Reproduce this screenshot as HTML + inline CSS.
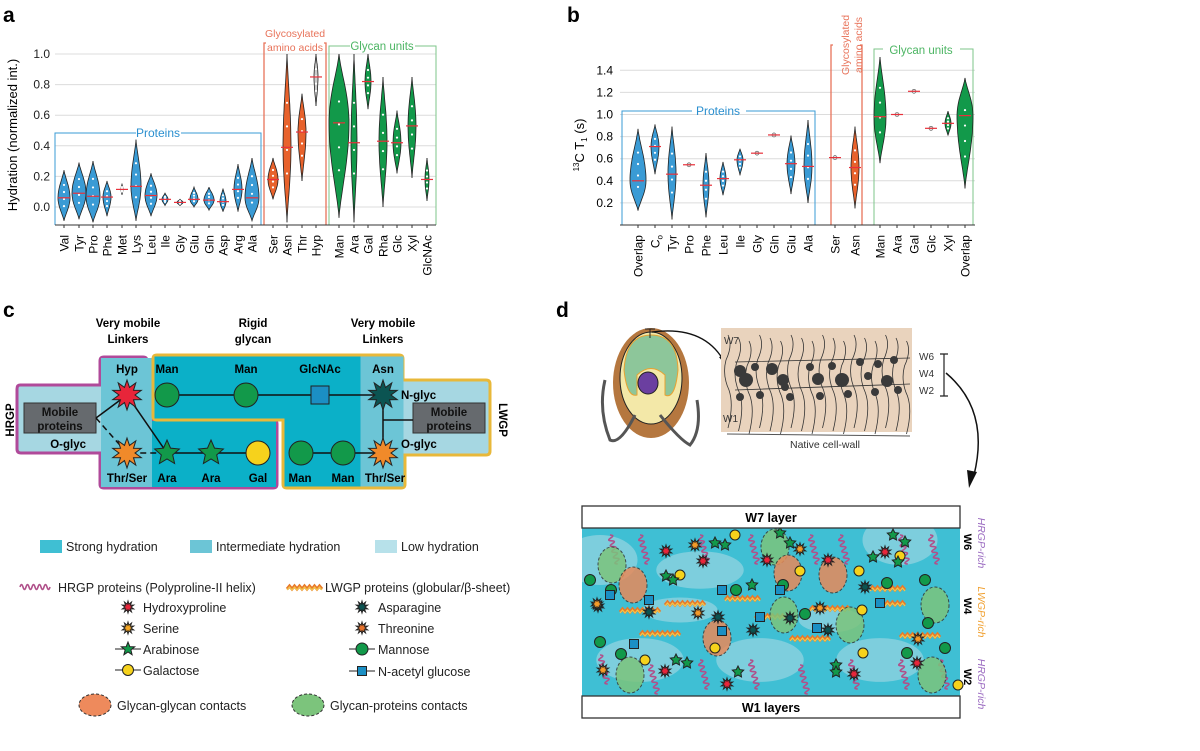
<!DOCTYPE html>
<html><head><meta charset="utf-8"><style>
body{margin:0;background:#fff}
svg{display:block;font-family:"Liberation Sans",sans-serif}
</style></head><body>
<svg id="s" width="1200" height="751" viewBox="0 0 1200 751">
<defs><clipPath id="dclip"><rect x="582" y="528" width="378" height="168"/></clipPath></defs>
<g id="pa"></g>
<g id="pb"></g>
<g id="pc"></g>
<g id="pd"></g>
</svg>
<script>
// ---- Panel a data ----
const aCats=["Val","Tyr","Pro","Phe","Met","Lys","Leu","Ile","Gly","Glu","Gln","Asp","Arg","Ala","Ser","Asn","Thr","Hyp","Man","Ara","Gal","Rha","Glc","Xyl","GlcNAc"];
const aMed=[0.06,0.09,0.07,0.065,0.115,0.135,0.075,0.05,0.03,0.05,0.045,0.035,0.115,0.06,0.18,0.39,0.49,0.85,0.55,0.42,0.82,0.43,0.42,0.53,0.18];
const aLo=[-0.09,-0.08,-0.1,-0.06,0.08,-0.09,-0.06,0.01,0.01,0,-0.02,-0.03,-0.03,-0.09,0.05,-0.1,0.17,0.66,-0.07,-0.1,0.64,0,0.22,0.19,0.04];
const aHi=[0.24,0.29,0.3,0.17,0.15,0.44,0.22,0.09,0.05,0.13,0.13,0.12,0.28,0.32,0.32,1.0,0.74,1.0,1.0,1.0,1.0,0.85,0.63,0.85,0.32];
const aWid=[6,7,7,4,1,5,6,3,3,4,5,3,4,7,5,4,4,2,10,3,3,4,4,4,2];
const aGrp=[0,0,0,0,0,0,0,0,0,0,0,0,0,0,1,1,1,3,2,2,2,2,2,2,2];
const aTicks=[0,0.2,0.4,0.6,0.8,1.0];
// ---- Panel b data ----
const bCats=["Overlap","C","Tyr","Pro","Phe","Leu","Ile","Gly","Gln","Glu","Ala","Ser","Asn","Man","Ara","Gal","Glc","Xyl","Overlap"];
const bMed=[0.40,0.71,0.46,0.545,0.36,0.42,0.59,0.65,0.815,0.555,0.53,0.61,0.52,0.98,1.0,1.21,0.875,0.92,0.99];
const bLo=[0.13,0.46,0.05,0.545,0.07,0.27,0.45,0.65,0.815,0.28,0.2,0.61,0.15,0.56,1.0,1.21,0.875,0.81,0.33];
const bHi=[0.87,0.91,0.89,0.545,0.65,0.57,0.69,0.65,0.815,0.81,0.95,0.61,0.89,1.52,1.0,1.21,0.875,1.03,1.33];
const bWid=[8,4,4,0,3,3,3,0,0,4,4,0,4,6,0,0,0,3,8];
const bGrp=[0,0,0,0,0,0,0,0,0,0,0,1,1,2,2,2,2,2,2];
const bTicks=[0.2,0.4,0.6,0.8,1.0,1.2,1.4];

const NS="http://www.w3.org/2000/svg";
function el(p,tag,at,txt){const e=document.createElementNS(NS,tag);for(const k in at)e.setAttribute(k,at[k]);if(txt!==undefined)e.textContent=txt;p.appendChild(e);return e;}
const COL=["#3a9bd5","#e8622c","#12994a","#cccccc"];

function violin(g,cx,y,lo,med,hi,w,col,name){
  const vg=el(g,"g",{});
  
  
  if(w>0&&hi>lo){
    el(vg,"line",{x1:cx,x2:cx,y1:y(lo),y2:y(hi),stroke:"#333","stroke-width":0.8});
    const N=30,L=[],R=[];
    for(let i=0;i<=N;i++){const v=lo+(hi-lo)*i/N;let f=v<med?(v-lo)/(med-lo||1):(hi-v)/(hi-med||1);f=Math.max(0,Math.min(1,f));const hw=w*Math.pow(Math.sin(f*Math.PI/2),1.3);L.push((cx-hw).toFixed(1)+","+y(v).toFixed(1));R.unshift((cx+hw).toFixed(1)+","+y(v).toFixed(1));}
    el(vg,"path",{d:"M"+L.join("L")+"L"+R.join("L")+"Z",fill:col,stroke:"#222","stroke-width":0.8});
    for(let k=1;k<=4;k++){const v=lo+(hi-lo)*(0.15+0.7*k/5);el(vg,"circle",{cx:cx,cy:y(v),r:1.1,fill:"#fff"});}
  } else {
    if(hi>lo) el(vg,"line",{x1:cx,x2:cx,y1:y(lo),y2:y(hi),stroke:"#999","stroke-width":0.8});
    el(vg,"circle",{cx:cx,cy:y(med),r:2,fill:"#ddd",stroke:"#555","stroke-width":0.6});
  }
  el(vg,"line",{x1:cx-6,x2:cx+6,y1:y(med),y2:y(med),stroke:"#e8303a","stroke-width":1.2});
}

// ===== Panel a =====
(function(){
 const g=document.getElementById("pa");
 const y=v=>207-v*153;
 const xs=[64,79,93,107,122,136,151,165,180,194,209,223,238,252,273,287,302,316,339,354,368,383,397,412,427];
 el(g,"text",{x:3,y:22,"font-size":21,"font-weight":"bold"},"a");
 aTicks.forEach(t=>{el(g,"line",{x1:55,x2:436,y1:y(t),y2:y(t),stroke:"#dcdcdc"});
  const tl=el(g,"text",{x:50,y:y(t)+4,"font-size":12,"text-anchor":"end",fill:"#222"},t.toFixed(1));
  });
 const yt=el(g,"text",{x:0,y:0,"font-size":13,"text-anchor":"middle",transform:"translate(17,135) rotate(-90)"},"Hydration (normalized int.)");
 
 el(g,"path",{d:"M55,225V133H136M181,133H261V225",fill:"none",stroke:"#3a9bd5","stroke-width":1});
 el(g,"text",{x:158,y:137,"font-size":12,fill:"#2a8fcf","text-anchor":"middle"},"Proteins");
 el(g,"path",{d:"M264,225V43H266M324,43H326V225",fill:"none",stroke:"#e8735a","stroke-width":1.3});
 el(g,"text",{x:295,y:37,"font-size":10.5,fill:"#e8735a","text-anchor":"middle"},"Glycosylated");
 el(g,"text",{x:295,y:51,"font-size":10.5,fill:"#e8735a","text-anchor":"middle"},"amino acids");
 el(g,"path",{d:"M329,225V46H350M415,46H436V225",fill:"none",stroke:"#7cc68a","stroke-width":1});
 el(g,"text",{x:382,y:50,"font-size":11.5,fill:"#4cb563","text-anchor":"middle"},"Glycan units");
 el(g,"line",{x1:55,x2:436,y1:225,y2:225,stroke:"#333","stroke-width":1});
 aCats.forEach((c,i)=>{
  el(g,"line",{x1:xs[i],x2:xs[i],y1:225,y2:228,stroke:"#333"});
  violin(g,xs[i],y,aLo[i],aMed[i],aHi[i],aWid[i],COL[aGrp[i]],"violin-"+c.toLowerCase());
  const t=el(g,"text",{x:xs[i]+4.5,y:235,"font-size":12,"text-anchor":"end",transform:`rotate(-90 ${xs[i]+4.5} 235)`},c);
  
 });
})();

// ===== Panel b =====
(function(){
 const g=document.getElementById("pb");
 const y=v=>225-v*110.5;
 const xs=[638,655,672,689,706,723,740,757,774,791,808,835,855,880,897,914,931,948,965];
 el(g,"text",{x:567,y:22,"font-size":21,"font-weight":"bold"},"b");
 bTicks.forEach(t=>{el(g,"line",{x1:620,x2:975,y1:y(t),y2:y(t),stroke:"#dcdcdc"});
  const tl=el(g,"text",{x:613,y:y(t)+4,"font-size":12,"text-anchor":"end"},t.toFixed(1));
  });
 const yt=el(g,"text",{x:0,y:0,"font-size":13,"text-anchor":"middle",transform:"translate(584,145) rotate(-90)"});
 
 el(yt,"tspan",{"font-size":8,dy:-5},"13");el(yt,"tspan",{dy:5},"C T");el(yt,"tspan",{"font-size":8,dy:3},"1");el(yt,"tspan",{dy:-3}," (s)");
 el(g,"path",{d:"M622,225V111H692M746,111H815V225",fill:"none",stroke:"#3a9bd5"});
 el(g,"text",{x:718,y:115,"font-size":12,fill:"#2a8fcf","text-anchor":"middle"},"Proteins");
 el(g,"path",{d:"M831,225V45H833M860,45H862V225",fill:"none",stroke:"#e8735a","stroke-width":1.3});
 el(g,"text",{x:0,y:0,"font-size":10.5,fill:"#e8735a",transform:"translate(849,75) rotate(-90)"},"Glycosylated");
 el(g,"text",{x:0,y:0,"font-size":10.5,fill:"#e8735a",transform:"translate(862,73) rotate(-90)"},"amino acids");
 el(g,"path",{d:"M874,225V49H883M960,49H973V225",fill:"none",stroke:"#7cc68a"});
 el(g,"text",{x:921,y:54,"font-size":11.5,fill:"#4cb563","text-anchor":"middle"},"Glycan units");
 el(g,"line",{x1:620,x2:975,y1:225,y2:225,stroke:"#333"});
 bCats.forEach((c,i)=>{
  el(g,"line",{x1:xs[i],x2:xs[i],y1:225,y2:228,stroke:"#333"});
  violin(g,xs[i],y,bLo[i],bMed[i],bHi[i],bWid[i],COL[bGrp[i]],"violin-"+c.toLowerCase()+"-"+i);
  const t=el(g,"text",{x:xs[i]+4.5,y:235,"font-size":12,"text-anchor":"end",transform:`rotate(-90 ${xs[i]+4.5} 235)`},c);
  if(i===1){el(t,"tspan",{"font-size":8,dy:3},"o");}
  
 });
})();

function starPts(cx,cy,ro,ri,n){let p=[];for(let i=0;i<2*n;i++){const a=-Math.PI/2+i*Math.PI/n;const r=i%2?ri:ro;p.push((cx+r*Math.cos(a)).toFixed(1)+","+(cy+r*Math.sin(a)).toFixed(1));}return p.join(" ");}
function star(g,cx,cy,ro,ri,n,fill,name){const s=el(g,"polygon",{points:starPts(cx,cy,ro,ri,n),fill:fill,stroke:"#222","stroke-width":1});return s;}
function circ(g,cx,cy,r,fill,name){const s=el(g,"circle",{cx:cx,cy:cy,r:r,fill:fill,stroke:"#222","stroke-width":1});return s;}
function sq(g,cx,cy,h,name){const s=el(g,"rect",{x:cx-h,y:cy-h,width:2*h,height:2*h,fill:"#1b8fc4",stroke:"#222","stroke-width":1});return s;}
function wave(g,x,y,len,col){let d="M"+x+","+y;for(let i=0;i<len;i+=6){d+=` q1.5,-5 3,0 q1.5,5 3,0`;}el(g,"path",{d:d,fill:"none",stroke:col,"stroke-width":1.6});}
function beta(g,x,y,len){let d="M"+x+","+y;for(let i=0;i<len;i+=5){d+=" l2.5,-3 l2.5,3";}el(g,"path",{d:d,fill:"none",stroke:"#e87a2a","stroke-width":3});el(g,"path",{d:d,fill:"none",stroke:"#f2c84b","stroke-width":1.2,transform:"translate(0,1)"});}

// ===== Panel c =====
(function(){
 const g=document.getElementById("pc");
 el(g,"text",{x:3,y:317,"font-size":21,"font-weight":"bold"},"c");
 const B={"font-size":11.5,"font-weight":"bold","text-anchor":"middle"};
 [["Very mobile",128,327],["Linkers",128,343],["Rigid",253,327],["glycan",253,343],["Very mobile",383,327],["Linkers",383,343]].forEach(a=>el(g,"text",Object.assign({x:a[1],y:a[2]},B),a[0]));
 const hr=el(g,"path",{d:"M20,385H100V361Q100,357 104,357H143Q147,357 147,361V420H273Q277,420 277,424V484Q277,488 273,488H104Q100,488 100,484V453H21Q17,453 17,449V389Q17,385 20,385Z",fill:"#a6d7e2",stroke:"#b04a9a","stroke-width":3});
 
 el(g,"rect",{x:101,y:358,width:51,height:129,fill:"#6cc5d6"});
 el(g,"rect",{x:152,y:421,width:124,height:66,fill:"#0bb0c8"});
 const lw=el(g,"path",{d:"M157,355H399Q403,355 403,359V380H486Q490,380 490,384V451Q490,455 486,455H405V484Q405,488 401,488H287Q283,488 283,484V420H157Q153,420 153,416V359Q153,355 157,355Z",fill:"#a6d7e2",stroke:"#e8b83a","stroke-width":3});
 
 el(g,"rect",{x:154.5,y:356.5,width:206,height:62,fill:"#0bb0c8"});
 el(g,"rect",{x:284.5,y:418,width:76,height:68.5,fill:"#0bb0c8"});
 el(g,"rect",{x:360.5,y:356.5,width:43,height:130,fill:"#6cc5d6"});
 [[24,"mobile-proteins-left"],[413,"mobile-proteins-right"]].forEach(b=>{const r=el(g,"rect",{x:b[0],y:403,width:72,height:30,fill:"#666a6e",stroke:"#333"});
  el(g,"text",Object.assign({},B,{x:b[0]+36,y:416,fill:"#111"}),"Mobile");el(g,"text",Object.assign({},B,{x:b[0]+36,y:430,fill:"#111"}),"proteins");});
 const L={stroke:"#111","stroke-width":1.5,fill:"none"};
 el(g,"path",Object.assign({d:"M96,418L127,395L167,453H258"},L));
 el(g,"path",Object.assign({d:"M96,418L127,453H167","stroke-dasharray":"6,4"},L));
 el(g,"path",Object.assign({d:"M167,395H383V453M383,420H413M301,453H383"},L));
 circ(g,167,395,12,"#12994a","man-1");circ(g,246,395,12,"#12994a","man-2");sq(g,320,395,9,"glcnac");
 star(g,383,395,15,8,10,"#0b5452","asn-star");star(g,127,395,15,8,10,"#e8253a","hyp-star");
 star(g,127,453,15,8,10,"#f08a2a","thr-ser-left");star(g,383,453,15,8,10,"#f08a2a","thr-ser-right");
 star(g,167,453,13,6,5,"#12994a","ara-1");star(g,211,453,13,6,5,"#12994a","ara-2");
 circ(g,258,453,12,"#f6d21c","gal");circ(g,301,453,12,"#12994a","man-3");circ(g,343,453,12,"#12994a","man-4");
 [["Hyp",127,373],["Man",167,373],["Man",246,373],["GlcNAc",320,373],["Asn",383,373],["Thr/Ser",127,482],["Ara",167,482],["Ara",211,482],["Gal",258,482],["Man",300,482],["Man",343,482],["Thr/Ser",385,482]].forEach(a=>el(g,"text",Object.assign({},B,{x:a[1],y:a[2]}),a[0]));
 el(g,"text",Object.assign({},B,{x:86,y:448,"text-anchor":"end"}),"O-glyc");
 el(g,"text",Object.assign({},B,{x:401,y:399,"text-anchor":"start"}),"N-glyc");
 el(g,"text",Object.assign({},B,{x:401,y:448,"text-anchor":"start"}),"O-glyc");
 el(g,"text",Object.assign({},B,{transform:"translate(14,420) rotate(-90)"}),"HRGP");
 el(g,"text",Object.assign({},B,{transform:"translate(499,420) rotate(90)"}),"LWGP");
 const T={"font-size":12.5,fill:"#222"};
 [[40,"#3fbfd3","Strong hydration"],[190,"#6cc5d6","Intermediate hydration"],[375,"#b7e1ea","Low hydration"]].forEach(a=>{const r=el(g,"rect",{x:a[0],y:540,width:22,height:13,fill:a[1]});el(g,"text",Object.assign({x:a[0]+26,y:551},T),a[2]);});
 wave(g,20,587,30,"#b0508a");el(g,"text",Object.assign({x:58,y:592},T),"HRGP proteins (Polyproline-II helix)");
 beta(g,287,589,32);el(g,"text",Object.assign({x:325,y:592},T),"LWGP proteins (globular/β-sheet)");
 star(g,128,607,6,3,10,"#e8253a","legend-hyp");el(g,"text",Object.assign({x:143,y:612},T),"Hydroxyproline");
 star(g,128,628,6,3,10,"#f5a623","legend-ser");el(g,"text",Object.assign({x:143,y:633},T),"Serine");
 el(g,"line",{x1:115,x2:141,y1:649,y2:649,stroke:"#222"});star(g,128,649,7,3,5,"#12994a","legend-ara");el(g,"text",Object.assign({x:143,y:654},T),"Arabinose");
 el(g,"line",{x1:115,x2:141,y1:670,y2:670,stroke:"#222"});circ(g,128,670,5.5,"#f6d21c","legend-gal");el(g,"text",Object.assign({x:143,y:675},T),"Galactose");
 star(g,362,607,6,3,10,"#0b5452","legend-asn");el(g,"text",Object.assign({x:378,y:612},T),"Asparagine");
 star(g,362,628,6,3,10,"#e8722a","legend-thr");el(g,"text",Object.assign({x:378,y:633},T),"Threonine");
 el(g,"line",{x1:349,x2:375,y1:649,y2:649,stroke:"#222"});circ(g,362,649,6,"#12994a","legend-man");el(g,"text",Object.assign({x:378,y:654},T),"Mannose");
 el(g,"line",{x1:349,x2:375,y1:671,y2:671,stroke:"#222"});sq(g,362,671,4.5,"legend-glcnac");el(g,"text",Object.assign({x:378,y:676},T),"N-acetyl glucose");
 const e1=el(g,"ellipse",{cx:95,cy:705,rx:16,ry:11,fill:"#ee8a5c",stroke:"#333","stroke-dasharray":"3,2"});
 el(g,"text",Object.assign({x:117,y:710},T),"Glycan-glycan contacts");
 const e2=el(g,"ellipse",{cx:308,cy:705,rx:16,ry:11,fill:"#7cc47c",stroke:"#333","stroke-dasharray":"3,2"});
 el(g,"text",Object.assign({x:330,y:710},T),"Glycan-proteins contacts");
})();

// ===== Panel d =====
(function(){
 const g=document.getElementById("pd");
 el(g,"text",{x:556,y:317,"font-size":21,"font-weight":"bold"},"d");
 const cell=el(g,"g",{});
 el(cell,"ellipse",{cx:651,cy:383,rx:38,ry:55,fill:"#b5773f"});
 el(cell,"ellipse",{cx:651,cy:378,rx:31,ry:46,fill:"#f3e8a8",stroke:"#222"});
 el(cell,"path",{d:"M624,370Q626,335 651,335Q677,335 678,370Q675,400 665,395V375Q651,362 637,375V395Q627,398 624,370Z",fill:"#8dc69a",stroke:"#e7a232"});
 el(cell,"ellipse",{cx:648,cy:383,rx:10,ry:11,fill:"#6b3fa0",stroke:"#222"});
 el(cell,"path",{d:"M605,380Q598,410 610,440Q620,445 635,415M697,400Q702,430 690,445Q680,440 660,415",fill:"none",stroke:"#555","stroke-width":3});
 el(cell,"path",{d:"M645,329H655M650,329V338",stroke:"#222"});
 el(g,"path",{d:"M652,332Q705,325 725,363",fill:"none",stroke:"#111","stroke-width":1.3});
 el(g,"path",{d:"M719,357L726,366L726,355Z",fill:"#111"});
 const w=el(g,"rect",{x:721,y:328,width:191,height:104,fill:"#e9d3bd"});
 for(let i=0;i<18;i++){const x=728+i*10.5;el(g,"path",{d:`M${x},${335+(i%3)*3}q5,10 -2,25 q-4,15 3,30 q5,15 -1,38`,fill:"none",stroke:"#333","stroke-width":0.8});}
 el(g,"path",{d:"M735,362L910,358M735,390L910,384",stroke:"#333","stroke-width":0.8});
 [[740,371,6],[755,367,4],[772,369,6],[785,387,4],[746,380,7],[783,380,6],[818,379,6],[842,380,7],[868,376,4],[887,381,6],[894,360,4],[810,367,4],[832,366,4],[860,362,4],[878,364,4],[740,397,4],[760,395,4],[790,397,4],[820,396,4],[848,394,4],[875,392,4],[898,390,4]].forEach(b=>el(g,"circle",{cx:b[0],cy:b[1],r:b[2],fill:"#3a3a3a"}));
 el(g,"line",{x1:727,x2:910,y1:434,y2:436,stroke:"#555"});
 const S={"font-size":10,fill:"#333"};
 el(g,"text",Object.assign({x:724,y:344},S),"W7");el(g,"text",Object.assign({x:723,y:422},S),"W1");
 el(g,"text",Object.assign({x:919,y:360},S),"W6");el(g,"text",Object.assign({x:919,y:377},S),"W4");el(g,"text",Object.assign({x:919,y:394},S),"W2");
 el(g,"path",{d:"M940,354H948M944,354V396M940,396H948",stroke:"#222","stroke-width":1.2});
 el(g,"text",Object.assign({x:790,y:448,"font-size":10.5},{fill:"#333"}),"Native cell-wall");
 el(g,"path",{d:"M946,373Q990,410 974,475",fill:"none",stroke:"#111","stroke-width":1.5});
 el(g,"path",{d:"M967,470L969,488L977,472Z",fill:"#111"});
 const box=el(g,"rect",{x:582,y:528,width:378,height:168,fill:"#3fbfd4"});
 const cg=el(g,"g",{"clip-path":"url(#dclip)"});
 [[600,560,60,40],[700,570,70,30],[900,540,60,40],[640,660,70,35],[760,660,70,35],[880,660,70,35],[830,620,50,20],[680,610,60,20]].forEach(b=>el(cg,"ellipse",{cx:b[0],cy:b[1],rx:b[2]/1.6,ry:b[3]/1.6,fill:"#a6d8e3",opacity:0.6}));
 [[610,535],[640,535],[700,535],[750,535],[810,535],[840,535],[900,535],[930,535],[600,655],[650,665],[700,660],[750,660],[800,665],[850,660],[900,660],[940,660]].forEach(p=>{const wg=el(cg,"g",{transform:`translate(${p[0]},${p[1]}) rotate(75)`});wave(wg,0,0,30,"#b0508a");});
 [[620,612,40],[665,605,40],[725,600,35],[755,618,30],[790,640,40],[810,610,40],[870,590,35],[880,605,25],[900,637,40],[640,635,40]].forEach(b=>beta(cg,b[0],b[1],b[2]));
 [[612,565,"#7cc47c"],[633,585,"#e88a5a"],[775,547,"#7cc47c"],[784,615,"#7cc47c"],[717,638,"#e88a5a"],[788,573,"#e88a5a"],[833,575,"#e88a5a"],[850,625,"#7cc47c"],[935,605,"#7cc47c"],[630,675,"#7cc47c"],[932,675,"#7cc47c"]].forEach(e=>{const o=el(cg,"ellipse",{cx:e[0],cy:e[1],rx:14,ry:18,fill:e[2],stroke:"#333","stroke-dasharray":"3,2",opacity:0.85});});
 [[590,580],[611,590],[736,590],[783,585],[805,614],[887,583],[925,580],[928,623],[907,653],[600,642],[621,654],[945,648]].forEach(c=>circ(g,c[0],c[1],5.5,"#12994a","mannose"));
 [[735,535],[800,571],[859,571],[900,556],[645,660],[715,648],[863,653],[958,685],[862,610],[680,575]].forEach(c=>circ(g,c[0],c[1],5,"#f6d21c","galactose"));
 [[610,595],[649,600],[722,590],[760,617],[817,628],[880,603],[634,644],[722,631],[780,590]].forEach(c=>sq(g,c[0],c[1],4.5,"glcnac"));
 [[666,576],[673,580],[752,585],[725,545],[715,543],[780,533],[790,543],[873,557],[898,562],[676,660],[687,663],[738,672],[836,665],[836,672],[893,535],[905,542]].forEach(c=>star(g,c[0],c[1],6,3,5,"#12994a","arabinose"));
 [[666,551],[703,561],[767,560],[828,560],[885,552],[665,671],[727,684],[854,674],[917,663]].forEach(c=>star(g,c[0],c[1],6,3,10,"#e8253a","hyp"));
 [[598,606],[649,612],[718,617],[753,630],[790,618],[865,587],[828,630]].forEach(c=>star(g,c[0],c[1],6,3,10,"#0b5452","asn"));
 [[597,604],[695,545],[800,549],[820,608],[918,639],[603,670],[698,613]].forEach(c=>star(g,c[0],c[1],6,3,10,"#f39a2a","ser-thr"));
 const top=el(g,"rect",{x:582,y:506,width:378,height:22,fill:"#fff",stroke:"#333","stroke-width":1.3});
 const bot=el(g,"rect",{x:582,y:696,width:378,height:22,fill:"#fff",stroke:"#333","stroke-width":1.3});
 el(g,"text",{x:771,y:522,"font-size":12.5,"font-weight":"bold","text-anchor":"middle"},"W7 layer");
 el(g,"text",{x:771,y:712,"font-size":12.5,"font-weight":"bold","text-anchor":"middle"},"W1 layers");
 const R={"font-size":11,"font-weight":"bold","text-anchor":"middle"};
 el(g,"text",Object.assign({},R,{transform:"translate(964,542) rotate(90)"}),"W6");
 el(g,"text",Object.assign({},R,{transform:"translate(964,606) rotate(90)"}),"W4");
 el(g,"text",Object.assign({},R,{transform:"translate(964,677) rotate(90)"}),"W2");
 const I={"font-size":10.5,"font-style":"italic","text-anchor":"middle"};
 el(g,"text",Object.assign({},I,{fill:"#9a6ac0",transform:"translate(978,543) rotate(90)"}),"HRGP-rich");
 el(g,"text",Object.assign({},I,{fill:"#f0a030",transform:"translate(978,612) rotate(90)"}),"LWGP-rich");
 el(g,"text",Object.assign({},I,{fill:"#9a6ac0",transform:"translate(978,684) rotate(90)"}),"HRGP-rich");
})();
</script>
</body></html>
